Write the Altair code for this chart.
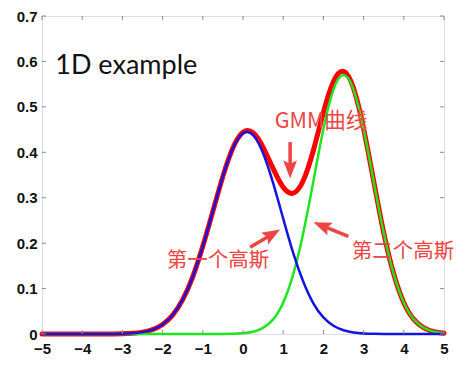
import altair as alt
import pandas as pd

# ---- data ----
x_vals = [-5, -4.75, -4.5, -4.25, -4, -3.75, -3.5, -3.25, -3, -2.75, -2.5, -2.25, -2,
          -1.75, -1.5, -1.25, -1, -0.75, -0.5, -0.25, 0, 0.25, 0.5, 0.75, 1, 1.25, 1.5,
          1.75, 2, 2.25, 2.5, 2.75, 3, 3.25, 3.5, 3.75, 4, 4.25, 4.5, 4.75, 5]
blue_vals = [0, 0, 0, 0, 0, 0, 0.0001, 0.0002, 0.0006, 0.0016, 0.0041, 0.0097, 0.021,
             0.0417, 0.0757, 0.126, 0.193, 0.270, 0.347, 0.409, 0.442, 0.438, 0.398, 0.332,
             0.254, 0.178, 0.115, 0.0676, 0.0366, 0.0182, 0.0083, 0.0034, 0.0013, 0.0005,
             0.0002, 0.0001, 0, 0, 0, 0, 0]
green_vals = [0, 0, 0, 0, 0, 0, 0, 0, 0, 0, 0, 0, 0, 0, 0, 0, 0, 0, 0.0001, 0.0005,
              0.0016, 0.0049, 0.0134, 0.0322, 0.069, 0.1316, 0.223, 0.336, 0.451, 0.538,
              0.570, 0.538, 0.451, 0.336, 0.223, 0.1316, 0.069, 0.0322, 0.0134, 0.0049, 0.0016]
gmm_vals = [0, 0, 0, 0, 0, 0, 0.0001, 0.0002, 0.0006, 0.0016, 0.0041, 0.0097, 0.021,
            0.0417, 0.0757, 0.126, 0.193, 0.270, 0.347, 0.410, 0.444, 0.443, 0.411, 0.364,
            0.323, 0.310, 0.338, 0.404, 0.488, 0.556, 0.578, 0.541, 0.452, 0.337, 0.223,
            0.132, 0.069, 0.0322, 0.0134, 0.0049, 0.0016]

x_ticks = [-5, -4, -3, -2, -1, 0, 1, 2, 3, 4, 5]
y_ticks = [0, 0.1, 0.2, 0.3, 0.4, 0.5, 0.6, 0.7]

title_text = ["1D example"]
title_x = [-4.67]
title_y = [0.573]

ann_labels = ["GMM曲线", "第一个高斯", "第二个高斯"]
ann_x = [1.94, -0.62, 3.98]
ann_y = [0.466, 0.1616, 0.181]
ann_size = [21.5, 20.5, 20.5]

arrow_tail_x = [1.172, 0.178, 2.621]
arrow_tail_y = [0.4223, 0.1909, 0.2151]
arrow_tip_x = [1.172, 0.923, 1.751]
arrow_tip_y = [0.3423, 0.2299, 0.246]
arrow_angle = [180, 59.5, 292]

# ---- chart ----
W, H = 402, 318
GREY = "#8a8a8a"
ANN = "#ee4444"
LBL = dict(labelFont="Liberation Sans", labelFontWeight="bold", labelFontSize=15,
           labelColor="#111111")

xs = alt.Scale(domain=[-5, 5], nice=False, zero=False)
ys = alt.Scale(domain=[0, 0.7], nice=False, zero=False)

x_axis = alt.Axis(values=x_ticks, title=None, ticks=False, domain=False, grid=False,
                  labelPadding=7, format="d", labelFlush=False, labelOverlap=False, **LBL)
y_axis = alt.Axis(values=y_ticks, title=None, ticks=False, domain=False, grid=False,
                  labelPadding=5, labelFlush=False, labelOverlap=False,
                  labelExpr="datum.value == 0 ? '0' : format(datum.value, '.1f')", **LBL)


def X(f):
    return alt.X(f, scale=xs, axis=x_axis)


def Y(f):
    return alt.Y(f, scale=ys, axis=y_axis)


df = pd.DataFrame({"x": x_vals, "blue": blue_vals, "green": green_vals, "gmm": gmm_vals})
base = alt.Chart(df)

red = base.mark_line(color="#ff0000", strokeWidth=5, interpolate="natural",
                     strokeCap="round", strokeJoin="round").encode(x=X("x:Q"), y=Y("gmm:Q"))
green = base.mark_line(color="#1ee61e", strokeWidth=2.5, interpolate="natural").encode(
    x=X("x:Q"), y=Y("green:Q"))
blue = base.mark_line(color="#1414e0", strokeWidth=2.5, interpolate="natural").encode(
    x=X("x:Q"), y=Y("blue:Q"))

xt = alt.Chart(pd.DataFrame({"t": x_ticks}))
yt = alt.Chart(pd.DataFrame({"t": y_ticks}))
tick_bottom = xt.mark_rule(color=GREY, strokeWidth=1).encode(
    x=X("t:Q"), y=alt.value(H), y2=alt.value(H - 4))
tick_top = xt.mark_rule(color=GREY, strokeWidth=1).encode(
    x=X("t:Q"), y=alt.value(0), y2=alt.value(4))
tick_left = yt.mark_rule(color=GREY, strokeWidth=1).encode(
    y=Y("t:Q"), x=alt.value(0), x2=alt.value(4))
tick_right = yt.mark_rule(color=GREY, strokeWidth=1).encode(
    y=Y("t:Q"), x=alt.value(W), x2=alt.value(W - 4))

title = alt.Chart(pd.DataFrame({"x": title_x, "y": title_y, "t": title_text})).mark_text(
    font="Lato", fontSize=27, color="#111111", align="left", baseline="alphabetic"
).encode(x=X("x:Q"), y=Y("y:Q"), text="t:N")

ann_df = pd.DataFrame({"x": ann_x, "y": ann_y, "t": ann_labels, "s": ann_size})
ann = alt.Chart(ann_df).mark_text(
    font="Noto Sans CJK SC", color=ANN, align="center", baseline="middle"
).encode(x=X("x:Q"), y=Y("y:Q"), text="t:N", size=alt.Size("s:Q", scale=None))

arr = pd.DataFrame({"tx": arrow_tail_x, "ty": arrow_tail_y,
                    "hx": arrow_tip_x, "hy": arrow_tip_y, "a": arrow_angle})
arr["mx"] = arr["tx"] + 0.65 * (arr["hx"] - arr["tx"])
arr["my"] = arr["ty"] + 0.65 * (arr["hy"] - arr["ty"])
shaft = alt.Chart(arr).mark_rule(color=ANN, strokeWidth=3.5).encode(
    x=X("tx:Q"), y=Y("ty:Q"), x2="mx:Q", y2="my:Q")
head = alt.Chart(arr).mark_point(
    shape="M0,0 L0.38,1 L0,0.82 L-0.38,1 Z", filled=True, color=ANN, opacity=1,
    strokeWidth=0, size=4 * 18 * 18
).encode(x=X("hx:Q"), y=Y("hy:Q"), angle=alt.Angle("a:Q", scale=None))

chart = alt.layer(
    red, green, blue, tick_bottom, tick_top, tick_left, tick_right, title, ann, shaft, head
).properties(
    width=W, height=H,
    padding={"left": 42, "top": 16, "right": 30, "bottom": 34},
    autosize=alt.AutoSizeParams(type="none"),
).configure_view(
    stroke=GREY, strokeWidth=1
).configure(background="white")

chart.save("out.html", embed_options={"renderer": "svg", "actions": False})
